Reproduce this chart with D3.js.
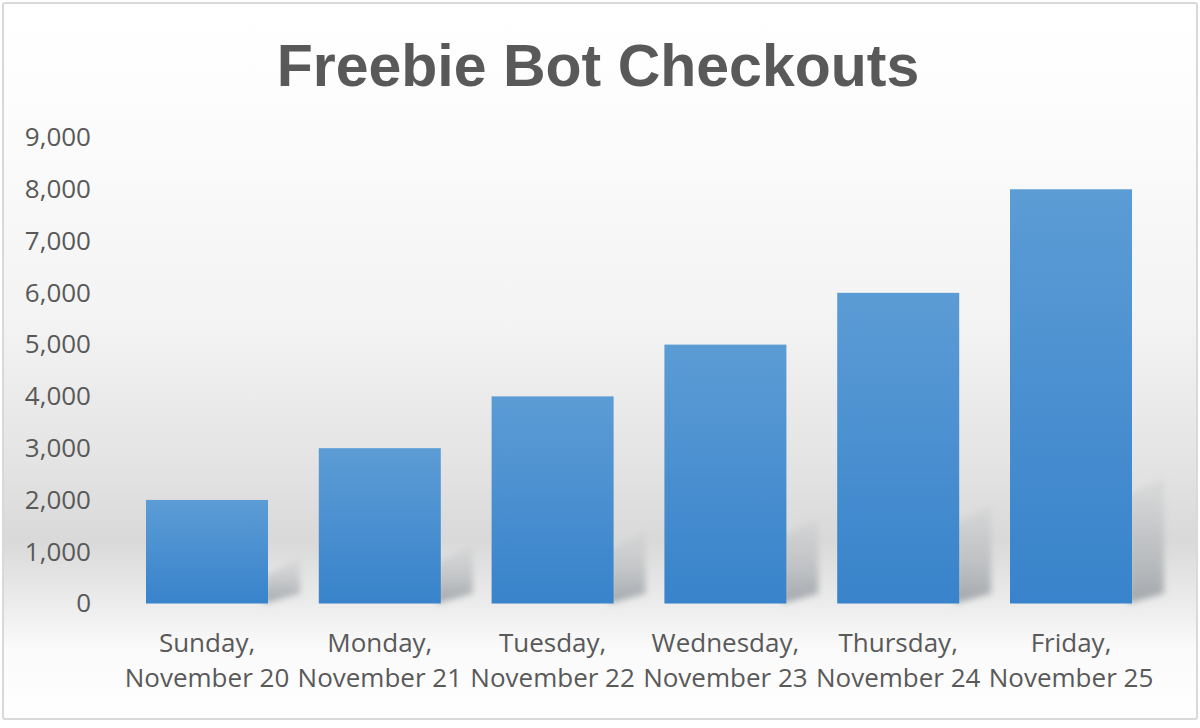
<!DOCTYPE html>
<html>
<head>
<meta charset="utf-8">
<script src="https://cdn.jsdelivr.net/npm/d3@7"></script>
<style>
  html, body { margin: 0; padding: 0; background: #fff; }
  svg { display: block; }
</style>
</head>
<body>
<script>
const days = ["Sunday,", "Monday,", "Tuesday,", "Wednesday,", "Thursday,", "Friday,"];
const dates = ["November 20", "November 21", "November 22", "November 23", "November 24", "November 25"];
const checkouts = [2000, 3000, 4000, 5000, 6000, 8000];
const yTicks = [0, 1000, 2000, 3000, 4000, 5000, 6000, 7000, 8000, 9000];

const width = 1200;
const height = 728;
const textColor = "#595959";
const labelFont = "'Open Sans', 'Noto Sans', sans-serif";

const svg = d3.select("body").append("svg")
  .attr("width", width)
  .attr("height", height);

const defs = svg.append("defs");

// background wash, white on top going grey towards the floor
const bg = defs.append("linearGradient")
  .attr("id", "bg").attr("x1", 0).attr("y1", 0).attr("x2", 0).attr("y2", 1);
[[0, "#ffffff"], [0.13, "#fdfdfd"], [0.45, "#f3f3f3"], [0.64, "#e4e4e4"],
 [0.75, "#d9d9d9"], [0.83, "#eaeaea"], [0.9, "#fafafa"], [1, "#ffffff"]]
  .forEach(([o, c]) => bg.append("stop").attr("offset", o).attr("stop-color", c));

const barGrad = defs.append("linearGradient")
  .attr("id", "barGrad").attr("x1", 0).attr("y1", 0).attr("x2", 0).attr("y2", 1);
barGrad.append("stop").attr("offset", 0).attr("stop-color", "#5c9cd5");
barGrad.append("stop").attr("offset", 1).attr("stop-color", "#3883cb");

const shadowGrad = defs.append("linearGradient")
  .attr("id", "shadowGrad").attr("x1", 0).attr("y1", 1).attr("x2", 0).attr("y2", 0);
shadowGrad.append("stop").attr("offset", 0).attr("stop-color", "#999ea3").attr("stop-opacity", 0.9);
shadowGrad.append("stop").attr("offset", 1).attr("stop-color", "#c4c6c8").attr("stop-opacity", 0.25);

defs.append("filter").attr("id", "blur")
  .attr("x", "-50%").attr("y", "-50%").attr("width", "200%").attr("height", "200%")
  .append("feGaussianBlur").attr("stdDeviation", 3);

svg.append("rect")
  .attr("x", 3).attr("y", 3)
  .attr("width", width - 6).attr("height", height - 12)
  .attr("rx", 2)
  .attr("fill", "url(#bg)")
  .attr("stroke", "#d9d9d9")
  .attr("stroke-width", 2);

svg.append("text")
  .attr("x", 598).attr("y", 86)
  .attr("text-anchor", "middle")
  .attr("font-family", "'Liberation Sans', Arial, sans-serif")
  .attr("font-weight", "bold")
  .attr("font-size", 59)
  .attr("fill", textColor)
  .text("Freebie Bot Checkouts");

const x = d3.scaleBand()
  .domain(days.map((d, i) => i))
  .range([120.6, 1157.4])
  .paddingInner(0.294)
  .paddingOuter(0.147);

const y = d3.scaleLinear()
  .domain([0, 9000])
  .range([603.5, 137.5]);

// floor shadows, slanting up to the right of each bar
svg.append("g")
  .selectAll("polygon")
  .data(checkouts)
  .join("polygon")
  .attr("filter", "url(#blur)")
  .attr("fill", "url(#shadowGrad)")
  .attr("points", (d, i) => {
    const xr = x(i) + x.bandwidth();
    const base = y(0);
    const s = (y(0) - y(d)) * 0.26;
    return [
      [xr - 4, base],
      [xr - 4, base - s],
      [xr + 32, base - s - 18],
      [xr + 32, base - 10],
    ].map((p) => p.join(",")).join(" ");
  });

svg.append("g")
  .selectAll("rect")
  .data(checkouts)
  .join("rect")
  .attr("x", (d, i) => x(i))
  .attr("y", (d) => y(d))
  .attr("width", x.bandwidth())
  .attr("height", (d) => y(0) - y(d))
  .attr("fill", "url(#barGrad)");

const yAxis = svg.append("g")
  .attr("transform", "translate(91,0)")
  .call(d3.axisLeft(y).tickValues(yTicks).tickSize(0).tickPadding(0)
    .tickFormat(d3.format(",")));
yAxis.select(".domain").remove();
yAxis.selectAll("text")
  .attr("font-family", labelFont)
  .attr("font-size", 26)
  .attr("fill", textColor);

const xAxis = svg.append("g")
  .attr("transform", `translate(0,${y(0)})`)
  .call(d3.axisBottom(x).tickSize(0).tickFormat(() => ""));
xAxis.select(".domain").remove();
xAxis.selectAll(".tick text").remove();
xAxis.selectAll(".tick").each(function (i) {
  const t = d3.select(this).append("text")
    .attr("text-anchor", "middle")
    .attr("font-family", labelFont)
    .attr("font-size", 26)
    .attr("fill", textColor);
  t.append("tspan").attr("x", 0).attr("y", 48).text(days[i]);
  t.append("tspan").attr("x", 0).attr("y", 83).text(dates[i]);
});
</script>
</body>
</html>
